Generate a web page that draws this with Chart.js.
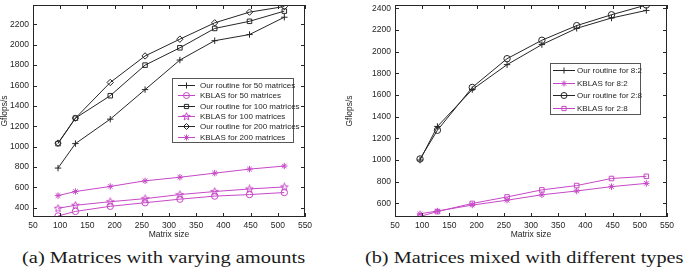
<!DOCTYPE html>
<html>
<head>
<meta charset="utf-8">
<script src="https://cdn.jsdelivr.net/npm/chart.js@4.4.0/dist/chart.umd.min.js"></script>
<style>
  body { margin: 0; background: #fff; width: 685px; height: 268px; position: relative; overflow: hidden; }
  .box { position: absolute; top: 0; width: 340px; height: 240px; }
  .cap { position: absolute; top: 248px; font-family: "Liberation Serif", serif; font-size: 17px; color: #1a1a1a; white-space: nowrap; transform-origin: 0 0; }
</style>
</head>
<body>
<div class="box" style="left:0"><canvas id="canvasOne" width="340" height="240"></canvas></div>
<div class="box" style="left:345px"><canvas id="canvasTwo" width="340" height="240"></canvas></div>
<div class="cap" id="capA" style="left:22px">(a) Matrices with varying amounts</div>
<div class="cap" id="capB" style="left:365px">(b) Matrices mixed with different types</div>
<script>
// matrix sizes
var sizes = [96, 128, 192, 256, 320, 384, 448, 512];

// (a) varying amounts
var our50   = [790, 1030, 1270, 1560, 1850, 2040, 2100, 2270];
var kblas50 = [320, 365, 415, 450, 485, 515, 530, 550];
var our100  = [1030, 1280, 1500, 1800, 1970, 2160, 2230, 2330];
var kblas100 = [395, 425, 460, 490, 530, 560, 585, 605];
var our200  = [1035, 1280, 1630, 1890, 2055, 2215, 2320, 2375];
var kblas200 = [520, 560, 610, 665, 700, 740, 780, 810];

// (b) mixed types
var our82   = [1000, 1310, 1650, 1880, 2065, 2215, 2310, 2380];
var kblas82 = [505, 530, 585, 630, 680, 715, 755, 785];
var our28   = [1010, 1275, 1670, 1935, 2105, 2240, 2340, 2430];
var kblas28 = [480, 525, 600, 660, 725, 765, 830, 850];

var xTicks = [50, 100, 150, 200, 250, 300, 350, 400, 450, 500, 550];

var dark = '#262626';
var mag = '#c648c6';
var none = 'rgba(0,0,0,0)';
var tickFont = { family: 'Liberation Sans, Arial, sans-serif', size: 8.5 };

// pentagram marker, no built-in style for it
function pentagram(color) {
    var c = document.createElement('canvas');
    c.width = 9; c.height = 9;
    var g = c.getContext('2d');
    g.strokeStyle = color;
    g.lineWidth = 1;
    g.beginPath();
    for (var i = 0; i < 10; i++) {
        var r = (i % 2 == 0) ? 4 : 1.7;
        var a = -Math.PI / 2 + i * Math.PI / 5;
        var px = 4.5 + r * Math.cos(a), py = 4.7 + r * Math.sin(a);
        if (i == 0) g.moveTo(px, py); else g.lineTo(px, py);
    }
    g.closePath();
    g.stroke();
    return c;
}

function series(label, vals, color, style) {
    return {
        label: label,
        data: sizes.map(function(x, i) { return { x: x, y: vals[i] }; }),
        borderColor: color,
        pointBorderColor: color,
        backgroundColor: none,
        pointBackgroundColor: none,
        borderWidth: 1,
        pointBorderWidth: 1,
        pointStyle: style,
        pointRadius: 3.2,
        tension: 0
    };
}

// box + inward ticks, MATLAB style
var framePlugin = {
    id: 'frame',
    afterDraw: function(chart) {
        var ctx = chart.ctx, a = chart.chartArea, xs = chart.scales.x, ys = chart.scales.y;
        ctx.save();
        ctx.strokeStyle = dark;
        ctx.lineWidth = 1;
        ctx.strokeRect(a.left + 0.5, a.top + 0.5, a.right - a.left - 1, a.bottom - a.top - 1);
        ctx.beginPath();
        xs.ticks.forEach(function(t) {
            var p = Math.round(xs.getPixelForValue(t.value)) + 0.5;
            ctx.moveTo(p, a.bottom); ctx.lineTo(p, a.bottom - 4);
            ctx.moveTo(p, a.top); ctx.lineTo(p, a.top + 4);
        });
        ys.ticks.forEach(function(t) {
            var p = Math.round(ys.getPixelForValue(t.value)) + 0.5;
            ctx.moveTo(a.left, p); ctx.lineTo(a.left + 4, p);
            ctx.moveTo(a.right, p); ctx.lineTo(a.right - 4, p);
        });
        ctx.stroke();
        ctx.restore();
    }
};

// legend box drawn inside the plot
var boxLegend = {
    id: 'boxLegend',
    afterDatasetsDraw: function(chart, args, opts) {
        var ctx = chart.ctx;
        var x = opts.x, y = opts.y, w = opts.w, h = opts.h, rh = opts.rowH;
        ctx.save();
        ctx.fillStyle = '#fff';
        ctx.fillRect(x, y, w, h);
        ctx.strokeStyle = '#555';
        ctx.lineWidth = 1;
        ctx.strokeRect(x + 0.5, y + 0.5, w, h);
        ctx.font = '8px Liberation Sans, Arial, sans-serif';
        ctx.textBaseline = 'middle';
        chart.data.datasets.forEach(function(ds, i) {
            var cy = Math.round(y + opts.first + rh * i) + 0.5;
            ctx.strokeStyle = ds.borderColor;
            ctx.beginPath();
            ctx.moveTo(x + opts.l0, cy); ctx.lineTo(x + opts.l1, cy);
            ctx.stroke();
            ctx.fillStyle = none;
            Chart.helpers.drawPoint(ctx, {
                pointStyle: ds.pointStyle, radius: 3, rotation: 0, borderWidth: 1
            }, x + (opts.l0 + opts.l1) / 2, cy);
            ctx.fillStyle = dark;
            ctx.fillText(ds.label, x + opts.tx, cy);
        });
        ctx.restore();
    }
};

function fmt(v) { return String(v); }

function makeChart(id, datasets, yMin, yMax, yWidth, padTop, padRight, legend) {
    var ctx = document.getElementById(id).getContext('2d');
    var config = {
        type: 'line',
        data: { datasets: datasets },
        options: {
            responsive: false,
            animation: false,
            layout: { padding: { top: padTop, right: padRight, left: 0, bottom: 0 } },
            plugins: { legend: { display: false }, tooltip: { enabled: false }, boxLegend: legend },
            scales: {
                x: {
                    type: 'linear', min: 50, max: 550,
                    afterBuildTicks: function(s) { s.ticks = xTicks.map(function(v) { return { value: v }; }); },
                    afterFit: function(s) { s.height = 23; s.paddingLeft = 0; s.paddingRight = 0; },
                    grid: { display: false, drawTicks: false },
                    border: { display: false },
                    ticks: { color: dark, font: tickFont, padding: 4, maxRotation: 0, callback: fmt },
                    title: { display: true, text: 'Matrix size', color: dark, font: tickFont, padding: { top: 1, bottom: 0 } }
                },
                y: {
                    min: yMin, max: yMax,
                    afterBuildTicks: function(s) {
                        var t = [];
                        for (var v = Math.ceil(yMin / 200) * 200; v <= yMax; v += 200) t.push({ value: v });
                        s.ticks = t;
                    },
                    afterFit: function(s) { s.width = yWidth; s.paddingTop = 0; s.paddingBottom = 0; },
                    grid: { display: false, drawTicks: false },
                    border: { display: false },
                    ticks: { color: dark, font: tickFont, padding: 4, callback: fmt },
                    title: { display: true, text: 'Gflops/s', color: dark, font: tickFont, padding: 0 }
                }
            }
        },
        plugins: [framePlugin, boxLegend]
    };
    return new Chart(ctx, config);
}

var star5 = pentagram(mag);

makeChart('canvasOne', [
    series('Our routine for 50 matrices', our50, dark, 'cross'),
    series('KBLAS for 50 matrices', kblas50, mag, 'circle'),
    series('Our routine for 100 matrices', our100, dark, 'rect'),
    series('KBLAS for 100 matrices', kblas100, mag, star5),
    series('Our routine for 200 matrices', our200, dark, 'rectRot'),
    series('KBLAS for 200 matrices', kblas200, mag, 'star')
], 310, 2390, 33, 1, 35, { x: 172, y: 78, w: 121, h: 64, rowH: 10.3, first: 7, l0: 6, l1: 23, tx: 28 });

makeChart('canvasTwo', [
    series('Our routine for 8:2', our82, dark, 'cross'),
    series('KBLAS for 8:2', kblas82, mag, 'star'),
    series('Our routine for 2:8', our28, dark, 'circle'),
    series('KBLAS for 2:8', kblas28, mag, 'rect')
], 475, 2430, 50, 3, 18, { x: 205, y: 63, w: 90, h: 51, rowH: 12.7, first: 7, l0: 3, l1: 25, tx: 27 });

// stretch the captions to the width of the printed ones
function fitCap(id, w) {
    var el = document.getElementById(id);
    el.style.transform = 'scaleX(' + (w / el.offsetWidth) + ')';
}
fitCap('capA', 283);
fitCap('capB', 318);
</script>
</body>
</html>
